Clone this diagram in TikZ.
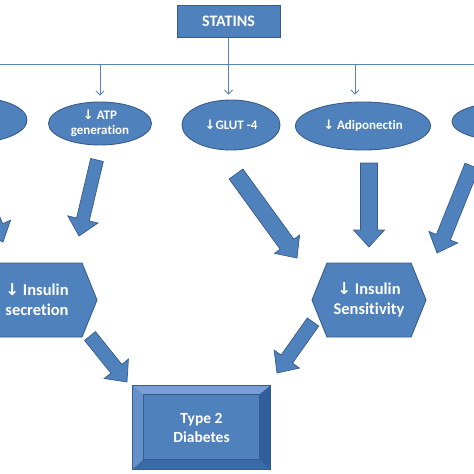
\documentclass[tikz,border=0pt]{standalone}
\usepackage{fontspec}
\setmainfont{Carlito}[Ligatures={NoCommon}]
\newfontfamily\arrowfont{DejaVu Sans}
\usetikzlibrary{positioning,arrows.meta,calc,shapes.geometric,shapes.symbols}
\definecolor{colbox}{HTML}{4F81BD}
\definecolor{coledge}{HTML}{385D8A}
\definecolor{colline}{HTML}{5A83B5}
\definecolor{collight}{HTML}{7A9FD4}
\definecolor{colsoft}{HTML}{6690CC}
\definecolor{coldark}{HTML}{30609B}
\definecolor{coldeep}{HTML}{3A6AA6}
\newcommand{\dn}{{\arrowfont ↓}}
% block arrow: [shaft half width]{tail}{tip}
\newcommand{\fatarrow}[3][8]{%
  \coordinate (neck) at ($(#3)!17pt!(#2)$);
  \filldraw[fatstyle] ($(#2)!#1pt!90:(#3)$) -- ($(neck)!#1pt!-90:(#2)$) -- ($(neck)!15.5pt!-90:(#2)$) -- (#3)
    -- ($(neck)!15.5pt!90:(#2)$) -- ($(neck)!#1pt!90:(#2)$) -- ($(#2)!#1pt!-90:(#3)$) -- cycle;}

\begin{document}
\begin{tikzpicture}[x=1pt,y=-1pt,
  every node/.style={font=\bfseries\fontsize{13}{15}\selectfont,text=white,align=center},
  oval/.style={ellipse,draw=coledge,fill=colbox,line width=0.9pt,inner sep=0pt},
  hexa/.style={signal,signal to=east and west,signal pointer angle=136,draw=coledge,fill=colbox,
    line width=0.9pt,minimum width=118pt,minimum height=74pt,inner sep=0pt,font=\bfseries\fontsize{16.5}{20}\selectfont},
  thinarrow/.style={colline,line width=0.9pt,-{Straight Barb[length=4pt,width=8pt]}},
  fatstyle/.style={fill=colbox,draw=coledge,line width=0.7pt,line join=miter}]
  \useasboundingbox (0,0) rectangle (474,474);
  \clip (0,0) rectangle (474,474);
  \fill[white] (0,0) rectangle (474,474);

  % top box and bus line
  \node[draw=coledge,fill=colbox,line width=1pt,minimum width=103pt,minimum height=32pt,
    font=\bfseries\fontsize{16}{18}\selectfont] (statins) at (228.5,21) {STATINS};
  \coordinate (busL) at (-5,64);
  \coordinate (busR) at (480,64);
  \draw[colline,line width=0.9pt] (busL) -- (busR);

  % ovals
  \node[oval,minimum width=100pt,minimum height=44pt] (leftov) at (-23,120) {};
  \node[oval,minimum width=103pt,minimum height=43pt] (atp) at (100,123.5) {\dn\ ATP\\generation};
  \node[oval,minimum width=98pt,minimum height=50pt] (glut) at (231,125) {\dn GLUT -4};
  \node[oval,minimum width=135pt,minimum height=48pt] (adipo) at (363,126) {\dn\ Adiponectin};
  \node[oval,minimum width=106pt,minimum height=38pt] (rightov) at (505,121.5) {};

  \draw[thinarrow,shorten >=5pt] (statins.south) -- (statins.south |- glut.north);
  \draw[thinarrow,shorten >=6pt] (atp.north |- busL) -- (atp.north);
  \draw[thinarrow,shorten >=7pt] ([xshift=-8pt]adipo.north |- busL) -- ([xshift=-8pt]adipo.north);

  % block arrows
  \coordinate (lt) at (-30,165); \coordinate (lh) at (3,242);
  \coordinate (at) at (97,160);  \coordinate (ah) at (79,236);
  \coordinate (gt) at (236,174); \coordinate (gh) at (297,258);
  \coordinate (dt) at (369,163); \coordinate (dh) at (369,247);
  \coordinate (rt) at (472,166); \coordinate (rh) at (437,253);
  \coordinate (st) at (90,336);  \coordinate (sh) at (127,382);
  \coordinate (nt) at (313,322); \coordinate (nh) at (277,373);
  \fatarrow[7]{lt}{lh}
  \fatarrow[6.5]{at}{ah}
  \fatarrow[8.5]{gt}{gh}
  \fatarrow[8.5]{dt}{dh}
  \fatarrow[7.5]{rt}{rh}
  \fatarrow[7]{st}{sh}
  \fatarrow[7]{nt}{nh}

  % hexagons
  \node[hexa,minimum width=120pt] (secr) at (37,300) {\dn\ Insulin\\secretion};
  \node[hexa,minimum width=114pt] (sens) at (369,300) {\dn\ Insulin\\Sensitivity};

  % bevelled result box
  \node[draw=coledge,fill=colbox,line width=1pt,minimum width=137pt,minimum height=83pt,
    font=\bfseries\fontsize{15.5}{19}\selectfont] (diab) at (201.5,427.5) {Type 2\\Diabetes};
  \fill[collight] (diab.north west) -- (diab.north east) -- ($(diab.north east)+(-11,9)$) -- ($(diab.north west)+(11,9)$) -- cycle;
  \fill[colsoft] (diab.north west) -- ($(diab.north west)+(11,9)$) -- ($(diab.south west)+(11,-10)$) -- (diab.south west) -- cycle;
  \fill[coldark] (diab.north east) -- ($(diab.north east)+(-11,9)$) -- ($(diab.south east)+(-11,-10)$) -- (diab.south east) -- cycle;
  \fill[coldeep] (diab.south west) -- ($(diab.south west)+(11,-10)$) -- ($(diab.south east)+(-11,-10)$) -- (diab.south east) -- cycle;
  \draw[coledge,line width=0.5pt] ($(diab.north west)+(11,9)$) rectangle ($(diab.south east)+(-11,-10)$);
  \draw[coledge,line width=1pt] (diab.north west) rectangle (diab.south east);
\end{tikzpicture}
\end{document}
